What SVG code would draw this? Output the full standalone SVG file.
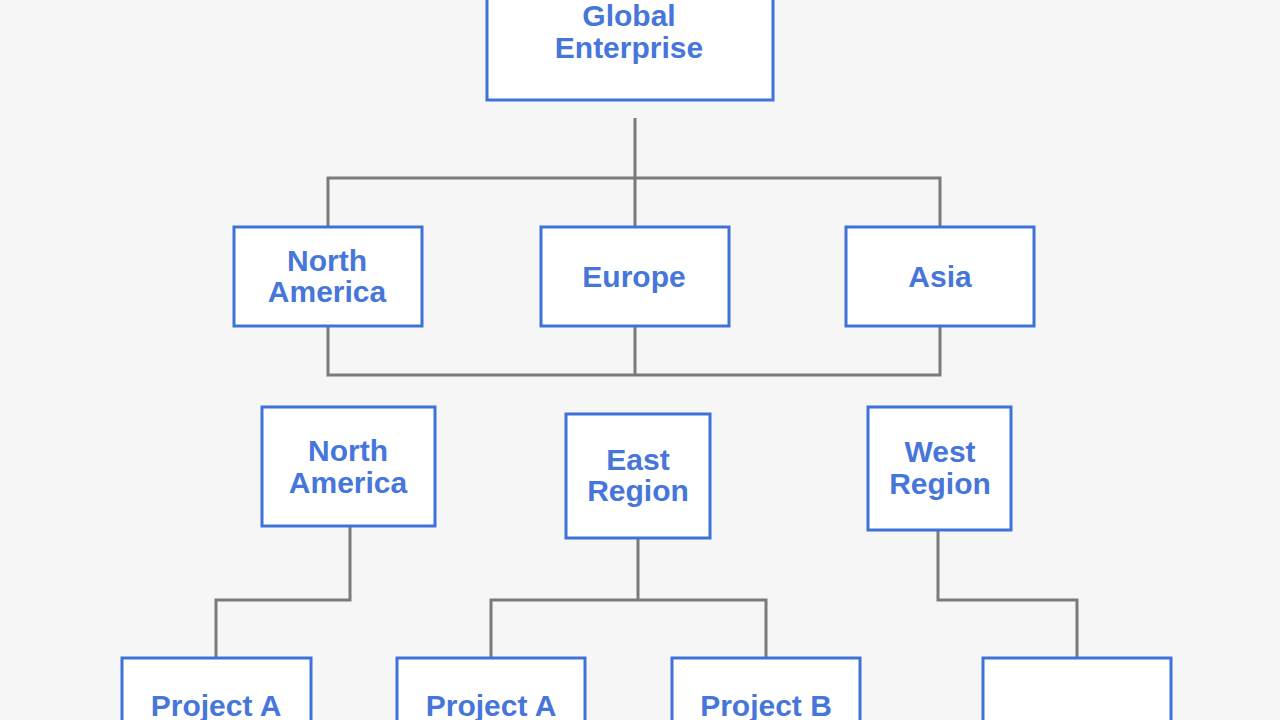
<svg xmlns="http://www.w3.org/2000/svg" width="1280" height="720" viewBox="0 0 1280 720">
<style>
.box{fill:#ffffff;stroke:#3f72d9;stroke-width:3}
.lbl{font-family:"Liberation Sans",Arial,sans-serif;font-weight:bold;font-size:30px;fill:#4776da;text-anchor:middle}
.conn{fill:none;stroke:#7a7a7a;stroke-width:3}
</style>
<rect width="1280" height="720" fill="#f6f6f6"/>
<g id="connectors">
<path class="conn" d="M635 118V178M328 226V178H940V226M635 178V226"/>
<path class="conn" d="M328 326V375H940V326M635 326V375"/>
<path class="conn" d="M350 527V600H216V657"/>
<path class="conn" d="M638 539V600M491 657V600H766V657"/>
<path class="conn" d="M938 531V600H1077V657"/>
</g>
<g id="global-enterprise">
<rect class="box" x="487" y="-20" width="286" height="120"/>
<text class="lbl" x="629" y="26">Global</text>
<text class="lbl" x="629" y="58">Enterprise</text>
</g>
<g id="north-america-1">
<rect class="box" x="234" y="227" width="188" height="99"/>
<text class="lbl" x="327" y="271">North</text>
<text class="lbl" x="327" y="302">America</text>
</g>
<g id="europe">
<rect class="box" x="541" y="227" width="188" height="99"/>
<text class="lbl" x="634" y="287">Europe</text>
</g>
<g id="asia">
<rect class="box" x="846" y="227" width="188" height="99"/>
<text class="lbl" x="940" y="287">Asia</text>
</g>
<g id="north-america-2">
<rect class="box" x="262" y="407" width="173" height="119"/>
<text class="lbl" x="348" y="461">North</text>
<text class="lbl" x="348" y="493">America</text>
</g>
<g id="east-region">
<rect class="box" x="566" y="414" width="144" height="124"/>
<text class="lbl" x="638" y="470">East</text>
<text class="lbl" x="638" y="501">Region</text>
</g>
<g id="west-region">
<rect class="box" x="868" y="407" width="143" height="123"/>
<text class="lbl" x="940" y="462">West</text>
<text class="lbl" x="940" y="494">Region</text>
</g>
<g id="project-a-1">
<rect class="box" x="122" y="658" width="189" height="90"/>
<text class="lbl" x="216" y="716">Project A</text>
</g>
<g id="project-a-2">
<rect class="box" x="397" y="658" width="188" height="90"/>
<text class="lbl" x="491" y="716">Project A</text>
</g>
<g id="project-b">
<rect class="box" x="672" y="658" width="188" height="90"/>
<text class="lbl" x="766" y="716">Project B</text>
</g>
<g id="project-4">
<rect class="box" x="983" y="658" width="188" height="90"/>
</g>
</svg>
